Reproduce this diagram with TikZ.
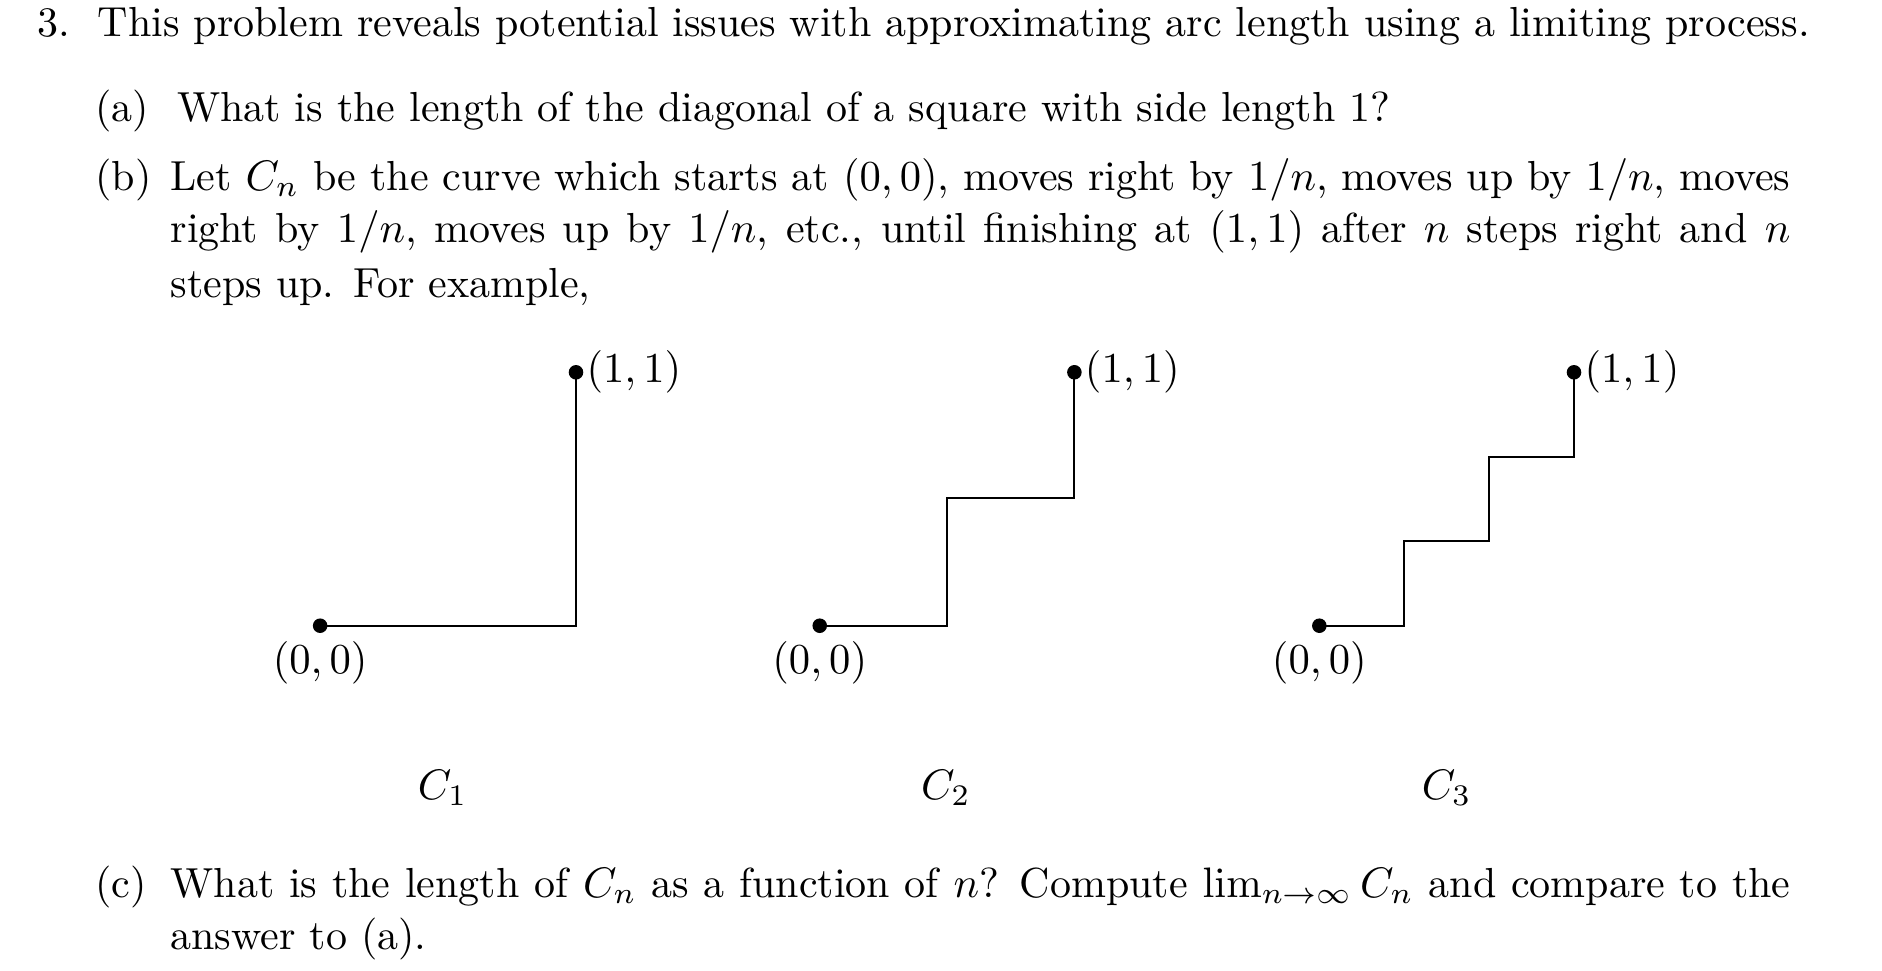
\documentclass[tikz,border=0pt]{standalone}
\begin{document}
\begin{tikzpicture}[x=0.01cm,y=-0.01cm,
  txt/.style={anchor=base west,inner sep=0pt,font=\fontsize{9.85}{12}\selectfont},
  lab/.style={inner sep=0pt,font=\fontsize{9.85}{12}\selectfont},
  pt/.style={circle,fill,inner sep=0pt,minimum size=0.12cm},
  crv/.style={line width=0.5pt}]
\useasboundingbox (0,0) rectangle (1552,800);
\node[txt] (l1) at (30,30) {3.\ \ This problem reveals potential issues with approximating arc length using a limiting process.};
\node[txt] (la) at (78,100) {(a)\ \ What is the length of the diagonal of a square with side length 1?};
\node[txt] (lbm) at (78,157) {(b)};
\node[txt] (lb1) at (140,157) {\makebox[13.35cm][s]{Let $C_n$ be the curve which starts at $(0,0)$, moves right by $1/n$, moves up by $1/n$, moves}};
\node[txt] (lb2) at (140,200) {\makebox[13.35cm][s]{right by $1/n$, moves up by $1/n$, etc., until finishing at $(1,1)$ after $n$ steps right and $n$}};
\node[txt] (lb3) at (140,245) {steps up. For example,};
\node[txt] (lcm) at (78,740) {(c)};
\node[txt] (lc1) at (140,740) {\makebox[13.35cm][s]{What is the length of $C_n$ as a function of $n$? Compute $\lim_{n\to\infty} C_n$ and compare to the}};
\node[txt] (lc2) at (140,783) {answer to (a).};
% figure 1
\node[pt] (s1) at (264,516) {};
\node[pt] (e1) at (475,307) {};
\draw[crv] (s1.center) -- (475,516) -- (e1.center);
\node[lab] (z1) at (264,547) {$(0,0)$};
\node[lab,anchor=west] (o1) at (483,307) {$(1,1)$};
\node[lab] (c1) at (365,650) {$C_1$};
% figure 2
\node[pt] (s2) at (676,516) {};
\node[pt] (e2) at (886,307) {};
\draw[crv] (s2.center) -- (781,516) -- (781,411) -- (886,411) -- (e2.center);
\node[lab] (z2) at (676,547) {$(0,0)$};
\node[lab,anchor=west] (o2) at (894,307) {$(1,1)$};
\node[lab] (c2) at (780,650) {$C_2$};
% figure 3
\node[pt] (s3) at (1088,516) {};
\node[pt] (e3) at (1298,307) {};
\draw[crv] (s3.center) -- (1158,516) -- (1158,446) -- (1228,446) -- (1228,377) -- (1298,377) -- (e3.center);
\node[lab] (z3) at (1088,547) {$(0,0)$};
\node[lab,anchor=west] (o3) at (1306,307) {$(1,1)$};
\node[lab] (c3) at (1193,650) {$C_3$};
\end{tikzpicture}
\end{document}
